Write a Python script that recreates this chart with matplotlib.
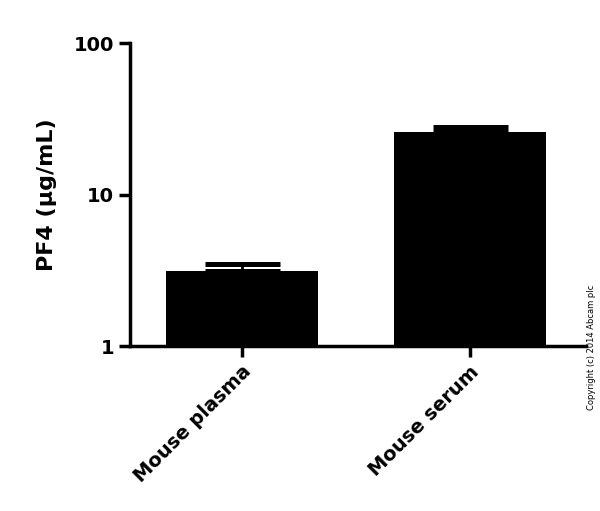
import matplotlib
matplotlib.use("Agg")
import matplotlib.pyplot as plt

categories = ["Mouse plasma", "Mouse serum"]
values = [3.13, 25.8]
err_up = [0.35, 2.3]

fig = plt.figure(figsize=(6, 5.11), dpi=100)
ax = fig.add_axes([130/600, 1-346/511, 456/600, 303/511])
x = [0, 1]
ax.bar(x, values, width=0.665, color="black", zorder=2)
ax.errorbar(x, values, yerr=[[0, 0], err_up], fmt="none", ecolor="black",
            elinewidth=2, capsize=27, capthick=3.6, zorder=1)
ax.set_yscale("log")
ax.set_ylim(1, 100)
ax.set_xlim(-0.49, 1.51)
ax.set_yticks([1, 10, 100])
ax.set_yticklabels(["1", "10", "100"])
ax.minorticks_off()
for s in ["top", "right"]:
    ax.spines[s].set_visible(False)
for s in ["left", "bottom"]:
    ax.spines[s].set_linewidth(2.5)
ax.tick_params(axis="y", width=2.5, length=8, labelsize=14)
ax.tick_params(axis="x", width=2.5, length=8, labelsize=14)
ax.set_xticks(x)
ax.set_xticklabels(categories, rotation=45, ha="right", rotation_mode="anchor", fontweight="bold")
for t in ax.get_yticklabels():
    t.set_fontweight("bold")
ax.set_ylabel("PF4 (µg/mL)", fontsize=16, fontweight="bold", labelpad=12)
fig.text(0.993, 0.32, "Copyright (c) 2014 Abcam plc", rotation=90, fontsize=6, ha="right", va="center")
fig.savefig("out.png", dpi=100)
